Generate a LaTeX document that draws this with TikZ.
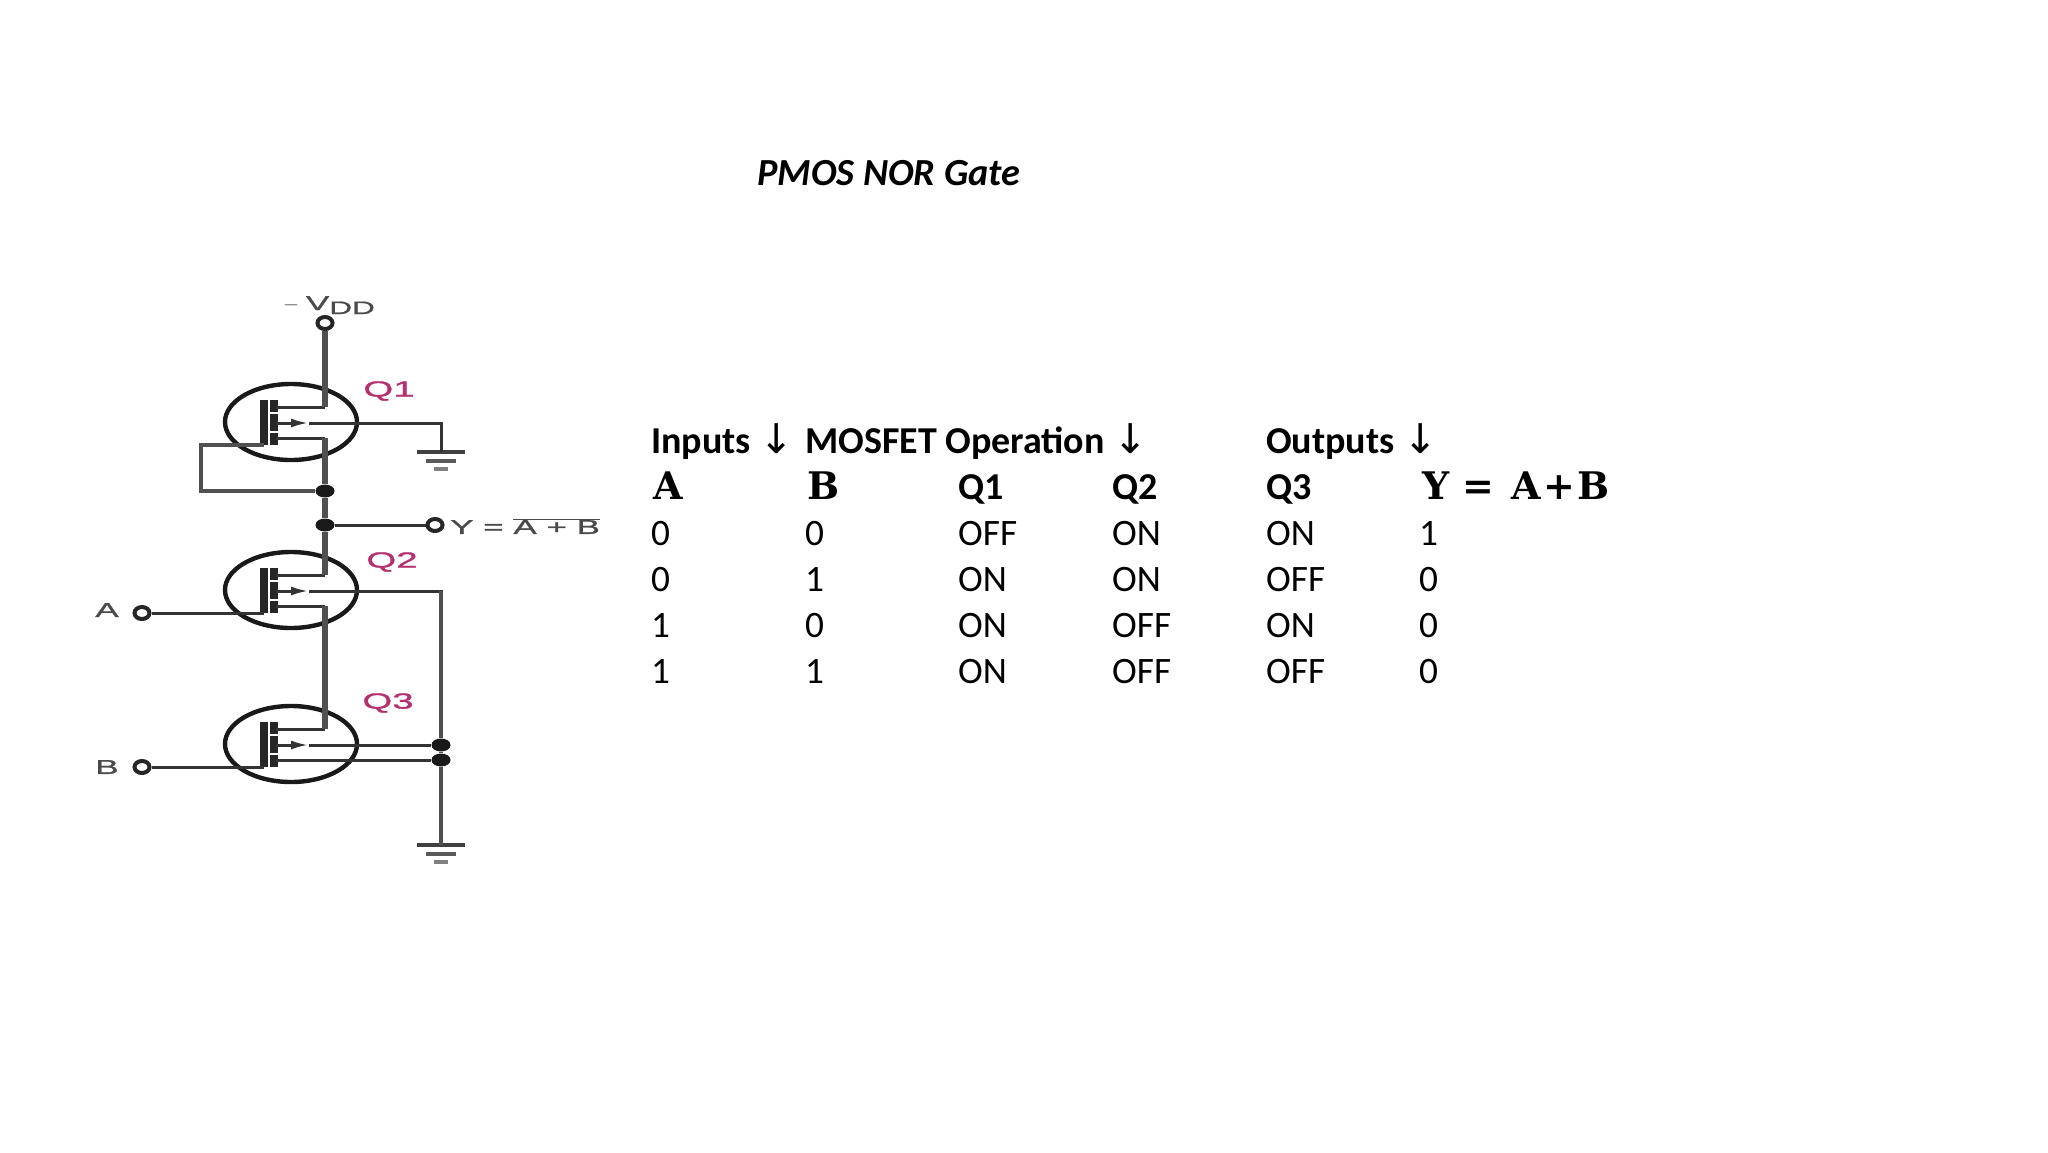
\documentclass[tikz,border=0pt]{standalone}
\usepackage{fontspec}
\setmainfont{Carlito}
\newfontfamily\widefont[FakeStretch=1.75,FakeBold=1.2]{Liberation Sans}
\newfontfamily\arrowfont{DejaVu Sans}
\newfontfamily\mathheadfont{DejaVu Serif}
\usetikzlibrary{shapes.geometric,arrows.meta}
\definecolor{wiregray}{HTML}{505050}
\definecolor{labelpink}{HTML}{B5306F}
\definecolor{labelgray}{HTML}{4A4A4A}
\newcommand{\downtip}{{\arrowfont\fontsize{41}{40}\selectfont\mdseries\char"2193}}
\tikzset{
  body/.style={draw=black!90,ellipse,line width=4.4pt,minimum width=132pt,minimum height=76pt,inner sep=0pt},
  lead/.style={draw=black!80,line width=3pt},
  rail/.style={draw=wiregray,line width=6.5pt},
  thinrail/.style={draw=wiregray,line width=4pt},
  gatebar/.style={draw=black!85,line width=7.5pt},
  terminal/.style={ellipse,draw=black!85,fill=white,line width=4pt,minimum width=15pt,minimum height=12pt,inner sep=0pt},
  junction/.style={ellipse,fill=black!90,minimum width=19pt,minimum height=13pt,inner sep=0pt},
  qlabel/.style={text=labelpink,font=\widefont\fontsize{22}{24}\selectfont},
  inlabel/.style={text=labelgray,font=\widefont\fontsize{20}{22}\selectfont},
  cell/.style={anchor=base west,inner sep=0pt,font=\fontsize{37.3}{40}\selectfont},
  headcell/.style={cell,font=\fontsize{38}{40}\selectfont\bfseries},
  mathcell/.style={anchor=base west,inner sep=0pt,font=\mathheadfont\bfseries\fontsize{38}{44}\selectfont},
  mosfet/.pic={
    \node[body] (-body) at (0,0) {};
    \draw[gatebar] (-27,-22) -- (-27,23);
    \draw[gatebar] (-17,-22) -- (-17,-10) (-17,-8) -- (-17,9) (-17,11) -- (-17,23);
    \coordinate (-d) at (34,-15);
    \coordinate (-m) at (65,1);
    \coordinate (-s) at (34,16);
    \coordinate (-g) at (-27,23);
    \draw[lead] (-15,-15) -- (-d);
    \draw[lead] (-15,16) -- (-s);
    \draw[lead,-{Latex[length=18pt,width=9pt]}] (-15,1) -- (18,1);
    \draw[lead] (18,1) -- (-m);
  },
  earth/.pic={
    \coordinate (-top) at (0,0);
    \draw[line width=3.4pt,draw=black!75] (-24,0) -- (24,0);
    \draw[line width=3.4pt,draw=black!65] (-15,9) -- (15,9);
    \draw[line width=3.4pt,draw=black!50] (-7,17) -- (7,17);
  }
}
\begin{document}
\begin{tikzpicture}[x=1pt,y=-1pt]
\useasboundingbox (0,0) rectangle (2048,1152);
\node[font=\fontsize{38.3}{40}\selectfont\bfseries\itshape] (title) at (889,173) {PMOS NOR Gate};
\pic (q1) at (291,422) {mosfet};
\pic (q2) at (291,590) {mosfet};
\pic (q3) at (291,744) {mosfet};
\pic (gnda) at (441,452) {earth};
\pic (gndb) at (441,845) {earth};
\node[terminal] (vdd) at (325,323) {};
\node[inlabel,anchor=base] (vddtext) at (329,310) {$-$\,\,V\raisebox{-4pt}{\fontsize{18}{18}\selectfont DD}};
\node[junction] (fb) at (325,491) {};
\node[junction] (out) at (325,525) {};
\node[terminal] (y) at (435,525) {};
\node[inlabel,anchor=west,inner sep=0pt] (ytext) at (450,526) {Y = $\overline{\mbox{A + B}}$};
\coordinate (loop) at (201,445);
\node[terminal] (a) at (142,613) {};
\node[terminal] (b) at (142,767) {};
\node[inlabel] (atext) at (107,610) {A};
\node[inlabel] (btext) at (107,767) {B};
\node[junction] (dota) at (441,745) {};
\node[junction] (dotb) at (441,760) {};
\node[qlabel] (qa) at (389,391) {Q1};
\node[qlabel] (qb) at (392,562) {Q2};
\node[qlabel] (qc) at (388,703) {Q3};
\draw[rail] (vdd) -- (q1-d);
\draw[rail] (q1-s) -- (fb);
\draw[rail] (fb) -- (out);
\draw[rail] (out) -- (q2-d);
\draw[rail] (q2-s) -- (q3-d);
\draw[lead] (q1-m) -| (gnda-top);
\draw[thinrail] (q1-g) -- (loop) |- (fb);
\draw[lead] (out) -- (y);
\draw[lead] (a) -- (q2-g);
\draw[lead] (b) -- (q3-g);
\draw[lead] (q2-m) -| (dota);
\draw[thinrail] (q2-m -| dota) -- (dota);
\draw[lead] (q3-m) -- (dota);
\draw[lead] (q3-s) -- (dotb);
\draw[thinrail] (dota) -- (dotb);
\draw[thinrail] (dotb) -- (gndb-top);
\node[headcell] (inputs) at (651,453) {Inputs \downtip};
\node[headcell] (mosop) at (805,453) {MOSFET Operation \downtip};
\node[headcell] (outputs) at (1266,453) {Outputs \downtip};
\node[mathcell] (hA) at (653,499) {A};
\node[mathcell] (hB) at (807,499) {B};
\node[headcell] (hQa) at (958,499) {Q1};
\node[headcell] (hQb) at (1112,499) {Q2};
\node[headcell] (hQc) at (1266,499) {Q3};
\node[mathcell] (hY) at (1422,499) {Y = \kern4pt A\kern2pt+\kern3pt B};
\foreach \r/\y/\va/\vb/\vc/\vd/\ve/\vf in {1/545/0/0/OFF/ON/ON/1,2/591/0/1/ON/ON/OFF/0,3/637/1/0/ON/OFF/ON/0,4/683/1/1/ON/OFF/OFF/0}{
  \node[cell] (a\r) at (651,\y) {\va};
  \node[cell] (b\r) at (805,\y) {\vb};
  \node[cell] (qa\r) at (958,\y) {\vc};
  \node[cell] (qb\r) at (1112,\y) {\vd};
  \node[cell] (qc\r) at (1266,\y) {\ve};
  \node[cell] (y\r) at (1419,\y) {\vf};
}
\end{tikzpicture}
\end{document}
